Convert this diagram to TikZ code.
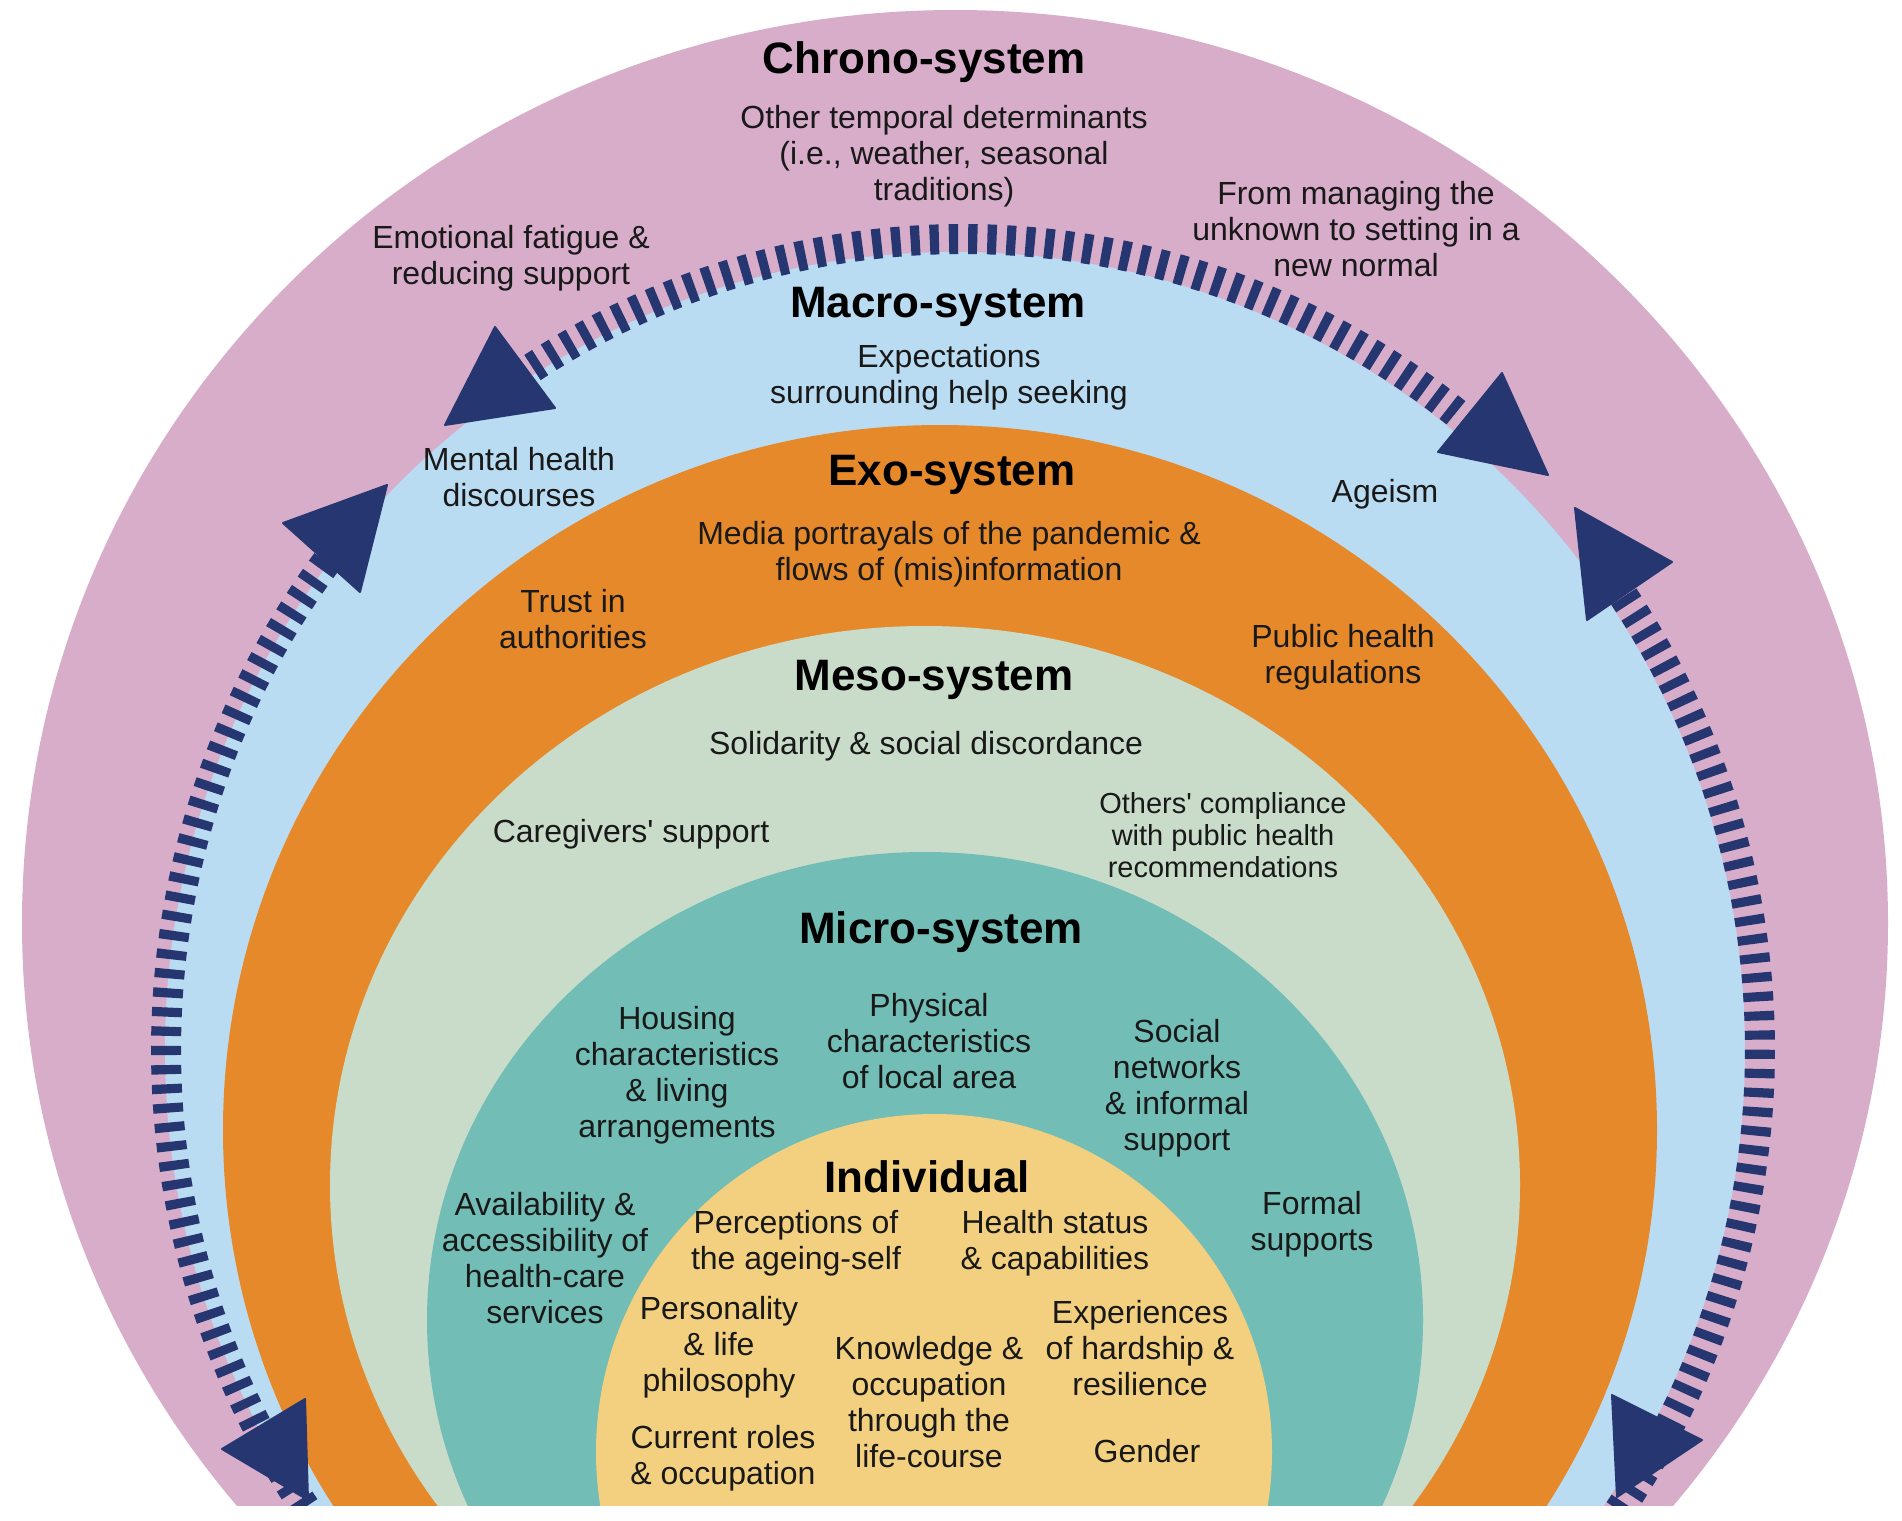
\documentclass[tikz,border=0pt]{standalone}
\usepackage{fontspec}
\setmainfont{Liberation Sans}
\definecolor{chrono}{RGB}{216,173,202}
\definecolor{macro}{RGB}{186,220,242}
\definecolor{exo}{RGB}{230,137,43}
\definecolor{meso}{RGB}{201,220,201}
\definecolor{micro}{RGB}{114,189,181}
\definecolor{indiv}{RGB}{242,208,127}
\definecolor{navy}{RGB}{38,54,112}
\definecolor{ink}{RGB}{25,25,25}
\begin{document}
\begin{tikzpicture}[x=0.5pt,y=-0.5pt,
  title/.style={font=\fontsize{22}{24}\selectfont\bfseries, text=black, inner sep=0pt},
  lbl/.style={font=\fontsize{16}{18}\selectfont, text=ink, align=center, inner sep=0pt},
  lblsm/.style={font=\fontsize{14.5}{16}\selectfont, text=ink, align=center, inner sep=0pt},
  ticks/.style={navy, line width=15pt, dash pattern=on 4.6pt off 5pt},
  head/.style={fill=navy, draw=navy, line width=1pt, line join=round}]
\useasboundingbox (0,0) rectangle (1902,1521);
\fill[white] (0,0) rectangle (1902,1521);
\begin{scope}
\clip (0,0) rectangle (1902,1505);
% layers
\fill[chrono] (955,923) ellipse [x radius=933, y radius=913];
\fill[macro] (955,1050) ellipse [x radius=790, y radius=798];
\fill[exo] (940,1130) ellipse [x radius=717, y radius=705];
\fill[meso] (925,1185) ellipse [x radius=595, y radius=559];
\fill[micro] (925,1320) ellipse [x radius=498, y radius=468];
\fill[indiv] (934,1452) ellipse [x radius=338, y radius=338];
% dashed arcs
\draw[ticks] plot[domain=122.7:51, samples=150] ({963+797*cos(\x)},{1050-811*sin(\x)});
\draw[ticks] plot[domain=143:216, samples=100] ({963+797*cos(\x)},{1050-811*sin(\x)});
\draw[ticks] plot[domain=34:-36, samples=100] ({963+797*cos(\x)},{1050-811*sin(\x)});
% arrow heads
\filldraw[head] (495,327) -- (555,408) -- (445,425) -- cycle;
\filldraw[head] (387,485) -- (283,523) -- (360,592) -- cycle;
\filldraw[head] (1548,475) -- (1502,373) -- (1438,452) -- cycle;
\filldraw[head] (1575,508) -- (1672,562) -- (1587,620) -- cycle;
\filldraw[head] (308,1500) -- (305,1399) -- (222,1449) -- cycle;
\filldraw[head] (1617,1497) -- (1612,1395) -- (1702,1440) -- cycle;
\end{scope}
% titles
\node[title] (tchrono) at (924,62) {Chrono-system};
\node[title] (tmacro) at (938,307) {Macro-system};
\node[title] (texo) at (952,475) {Exo-system};
\node[title] (tmeso) at (934,680) {Meso-system};
\node[title] (tmicro) at (941,932) {Micro-system};
\node[title] (tindiv) at (927,1177) {Individual};
% chrono
\node[lbl] (temporal) at (944,156) {Other temporal determinants\\(i.e., weather, seasonal\\traditions)};
\node[lbl] (fatigue) at (511,258) {Emotional fatigue \&\\reducing support};
\node[lbl] (managing) at (1356,229) {From managing the\\unknown to setting in a\\new normal};
% macro
\node[lbl] (expect) at (949,377) {Expectations\\surrounding help seeking};
\node[lbl] (mental) at (519,477) {Mental health\\discourses};
\node[lbl] (ageism) at (1385,494) {Ageism};
% exo
\node[lbl] (media) at (949,554) {Media portrayals of the pandemic \&\\flows of (mis)information};
\node[lbl] (trust) at (573,619) {Trust in\\authorities};
\node[lbl] (public) at (1343,657) {Public health\\regulations};
% meso
\node[lbl] (solid) at (926,746) {Solidarity \& social discordance};
\node[lbl] (caregivers) at (631,834) {Caregivers\textquotesingle{} support};
\node[lblsm] (others) at (1223,835) {Others\textquotesingle{} compliance\\with public health\\recommendations};
% micro
\node[lbl] (housing) at (677,1075) {Housing\\characteristics\\\& living\\arrangements};
\node[lbl] (physical) at (929,1041) {Physical\\characteristics\\of local area};
\node[lbl] (social) at (1177,1088) {Social\\networks\\\& informal\\support};
\node[lbl] (formal) at (1312,1224) {Formal\\supports};
\node[lbl] (avail) at (545,1258) {Availability \&\\accessibility of\\health-care\\services};
% individual
\node[lbl] (percep) at (796,1243) {Perceptions of\\the ageing-self};
\node[lbl] (health) at (1055,1243) {Health status\\\& capabilities};
\node[lbl] (person) at (719,1347) {Personality\\\& life\\philosophy};
\node[lbl] (know) at (929,1402) {Knowledge \&\\occupation\\through the\\life-course};
\node[lbl] (exper) at (1140,1348) {Experiences\\of hardship \&\\resilience};
\node[lbl] (roles) at (723,1458) {Current roles\\\& occupation};
\node[lbl] (gender) at (1147,1451) {Gender};
\end{tikzpicture}
\end{document}
